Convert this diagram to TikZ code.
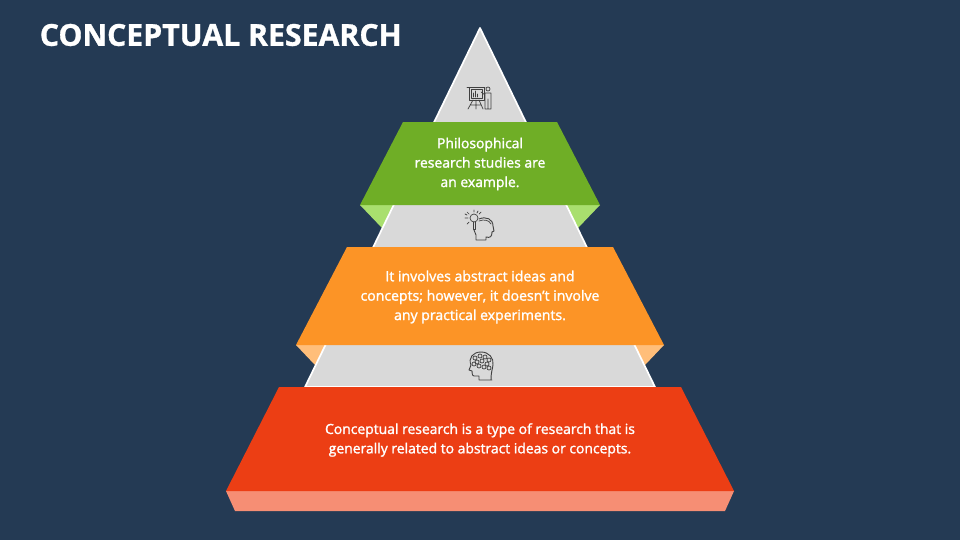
\documentclass[tikz,border=0pt]{standalone}
\usepackage{fontspec}
\usepackage{xcolor}
\setmainfont{Open Sans}
\usetikzlibrary{positioning}
\definecolor{slide}{HTML}{243A54}
\definecolor{stone}{HTML}{D9D9D9}
\definecolor{iconink}{HTML}{404040}
\definecolor{leaf}{HTML}{6FAE26}
\definecolor{leaflight}{HTML}{A9DF6E}
\definecolor{amber}{HTML}{FC9426}
\definecolor{amberlight}{HTML}{FFBE7A}
\definecolor{brick}{HTML}{EC3E14}
\definecolor{bricklight}{HTML}{F68E74}
\newfontfamily\bandfont[FakeBold=1.6]{Open Sans}
\newfontfamily\titlefont[FakeBold=1.0]{Open Sans Bold}

\begin{document}
\begin{tikzpicture}[x=0.025cm, y=-0.025cm]
    % Define styles
    \tikzset{label/.style={text=white, align=center, font=\bandfont\fontsize{9.9}{13.8}\selectfont},
             icon/.style={draw=iconink, line width=0.5pt, line join=round, line cap=round}}

    % Background
    \fill [slide] (0,0) rectangle (960,540);
    \useasboundingbox (0,0) rectangle (960,540);
    \node [anchor=west, inner sep=0pt, text=white, font=\titlefont\fontsize{21.5}{26}\selectfont] (title) at (39.5,35) {CONCEPTUAL RESEARCH};

    % Folds
    \fill [leaflight] (360,205) -- (382,228) -- (395,205) -- cycle;
    \fill [leaflight] (600,205) -- (578,228) -- (566,205) -- cycle;
    \fill [amberlight] (296,345) -- (315,365) -- (327,345) -- cycle;
    \fill [amberlight] (664,345) -- (645,365) -- (634,345) -- cycle;
    \fill [bricklight] (226,491) -- (235,511) -- (725,511) -- (734,491) -- cycle;

    % Pyramid
    \draw [fill=stone, draw=white, line width=1.2pt, line join=round] (480,28) -- (655,387) -- (305,387) -- cycle;

    % Bands
    \fill [leaf] (403,122) -- (557,122) -- (600,205) -- (360,205) -- cycle;
    \fill [amber] (347,247) -- (613,247) -- (664,345) -- (296,345) -- cycle;
    \fill [brick] (279,387) -- (681,387) -- (734,491) -- (226,491) -- cycle;

    % Texts
    \node [label] (top) at (480,164) {Philosophical\\research studies are\\an example.};
    \node [label, font=\bandfont\fontsize{10}{13.8}\selectfont] (middle) at (480,297) {It involves abstract ideas and\\concepts; however, it doesn’t involve\\any practical experiments.};
    \node [label] (bottom) at (480,440) {Conceptual research is a type of research that is\\generally related to abstract ideas or concepts.};

    % Presenter icon
    \draw [icon] (467,87) -- (485,87) (469,87) rectangle (484,100);
    \draw [icon] (471,89) rectangle (482,98);
    \draw [icon] (473,97) -- (473,93) (475,97) -- (475,91) (477,97) -- (477,94);
    \draw [icon] (473,100) -- (468,109) (479,100) -- (483,109) (476,100) -- (476,109) (470,105) -- (481,105);
    \draw [icon] (488,89) circle (2);
    \draw [icon] (485,109) -- (485,93) -- (491,93) -- (491,109) -- cycle (488,99) -- (488,109) (485,95) -- (481,92);

    % Idea icon
    \draw [icon] (474,218) circle (4);
    \draw [icon] (473,222) -- (473,229) -- (475,229) -- (475,222);
    \draw [icon] (467,212) -- (469,214) (474,210) -- (474,212) (481,212) -- (479,214) (465,218) -- (468,218) (467,224) -- (469,222) (465,214) -- (467,215) (478,211) -- (477,213);
    \draw [icon, line width=0.65pt] (479,219) .. controls (486,216) and (493,219) .. (493,226) .. controls (493,228) and (494,229) .. (494,231) -- (492,232) .. controls (492,237) and (490,238) .. (486,237) -- (486,240) -- (476,240) -- (476,235) -- (474,230);
    \draw [icon] (479,221) .. controls (484,219) and (489,220) .. (491,224);

    % Brain icon
    \draw [icon, line width=0.65pt] (471,365) .. controls (468,358) and (473,352) .. (481,352) .. controls (489,352) and (494,358) .. (493,365) .. controls (492,371) and (491,373) .. (491,380) -- (492,380) -- (479,380) -- (479,376) -- (474,376) .. controls (472,376) and (472,372) .. (472,371) -- (469,370) -- (471,365);
    \foreach \bx/\by in {475/358, 480/356, 485/357, 489/360, 477/362, 482/361, 487/364, 474/364, 479/366, 484/367, 489/368}
        \draw [icon] (\bx,\by) circle (2);
\end{tikzpicture}
\end{document}
